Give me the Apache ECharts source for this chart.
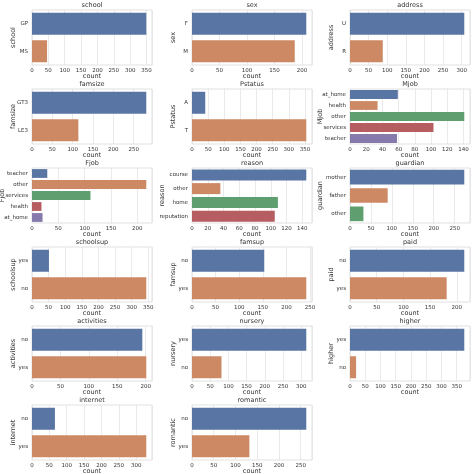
<!DOCTYPE html>
<html>
<head>
<meta charset="utf-8">
<script src="https://cdn.jsdelivr.net/npm/echarts@6/dist/echarts.min.js"></script>
<style>html,body{margin:0;padding:0;background:#fff}#main{width:474px;height:474px}</style>
</head>
<body>
<div id="main"></div>
<script>
// 每个子图的类别与计数
var titles = ['school', 'sex', 'address', 'famsize', 'Pstatus', 'Mjob', 'Fjob', 'reason', 'guardian',
    'schoolsup', 'famsup', 'paid', 'activities', 'nursery', 'higher', 'internet', 'romantic'];
var categories = [
    ['GP', 'MS'], ['F', 'M'], ['U', 'R'], ['GT3', 'LE3'], ['A', 'T'],
    ['at_home', 'health', 'other', 'services', 'teacher'],
    ['teacher', 'other', 'services', 'health', 'at_home'],
    ['course', 'other', 'home', 'reputation'],
    ['mother', 'father', 'other'],
    ['yes', 'no'], ['no', 'yes'], ['no', 'yes'], ['no', 'yes'], ['yes', 'no'], ['yes', 'no'],
    ['no', 'yes'], ['no', 'yes']
];
var counts = [
    [349, 46], [208, 187], [307, 88], [281, 114], [41, 354],
    [59, 34, 141, 103, 58],
    [29, 217, 111, 18, 20],
    [145, 36, 109, 105],
    [273, 90, 32],
    [51, 344], [153, 242], [214, 181], [194, 201], [314, 81], [375, 20],
    [66, 329], [263, 132]
];
var intervals = [50, 50, 50, 50, 50, 20, 50, 20, 50, 50, 50, 50, 50, 50, 50, 50, 50];
var colors = ['#5975a4', '#cc8963', '#5f9e6e', '#b55d60', '#857aab'];

var chart = echarts.init(document.getElementById('main'));
var grids = [], xAxes = [], yAxes = [], series = [], texts = [];
var lefts = [32, 192, 350], gw = 120;
for (var i = 0; i < titles.length; i++) {
    var col = i % 3, row = Math.floor(i / 3);
    var gTop = 10 + row * 79, gh = 55;
    var longest = Math.max.apply(null, categories[i].map(function (c) { return c.length; }));
    grids.push({left: lefts[col], top: gTop, width: gw, height: gh, outerBoundsMode: 'none',
        show: true, borderColor: '#d9d9d9', borderWidth: 0.8});
    var mx = Math.max.apply(null, counts[i]);
    xAxes.push({type: 'value', gridIndex: i, min: 0, max: mx * 1.05, interval: intervals[i],
        name: 'count', nameLocation: 'middle', nameGap: 8, nameMoveOverlap: false,
        nameTextStyle: {fontSize: 6.5, color: '#333', fontFamily: 'DejaVu Sans', verticalAlign: 'top'},
        axisLine: {show: false}, axisTick: {show: false},
        axisLabel: {fontSize: 5.5, color: '#333', margin: 3, fontFamily: 'DejaVu Sans', showMaxLabel: false},
        splitLine: {lineStyle: {color: '#e4e4e4', width: 0.8}}});
    yAxes.push({type: 'category', gridIndex: i, data: categories[i], inverse: true,
        name: titles[i], nameLocation: 'middle', nameRotate: 90, nameMoveOverlap: false,
        nameGap: longest > 3 ? 26 : 15,
        nameTextStyle: {fontSize: 6.5, color: '#333', fontFamily: 'DejaVu Sans'},
        axisLine: {show: false}, axisTick: {show: false},
        axisLabel: {fontSize: 5.5, color: '#333', margin: 4, fontFamily: 'DejaVu Sans'},
        splitLine: {show: false}});
    series.push({type: 'bar', xAxisIndex: i, yAxisIndex: i, barCategoryGap: '20%',
        data: counts[i].map(function (v, k) {
            return {value: v, itemStyle: {color: colors[k]}};
        }), silent: true, animation: false});
    texts.push({type: 'text', x: lefts[col] + gw / 2, y: gTop - 1.5,
        style: {text: titles[i], fontSize: 6.5, fill: '#333', fontFamily: 'DejaVu Sans',
            textAlign: 'center', textVerticalAlign: 'bottom'}});
}
chart.setOption({
    animation: false,
    grid: grids, xAxis: xAxes, yAxis: yAxes, series: series,
    graphic: texts
});
</script>
</body>
</html>
